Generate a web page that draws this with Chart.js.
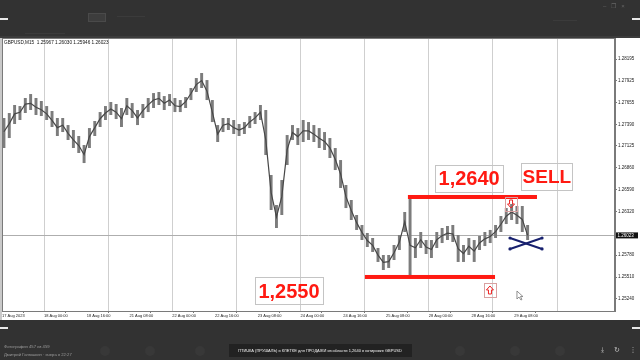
<!DOCTYPE html>
<html><head><meta charset="utf-8">
<style>html,body{margin:0;padding:0;background:#303030;overflow:hidden}canvas{display:block}</style>
<script src="https://cdn.jsdelivr.net/npm/chart.js@4.4.0/dist/chart.umd.min.js"></script>
</head><body>
<div style="width:640px;height:360px;position:relative"><canvas id="c" width="640" height="360" style="width:640px;height:360px"></canvas></div>
<script>
// ---- data (trading hours since 18 Aug 00:00, prices) ----
const symbolTitle = 'GBPUSD,M15';
const lastBar = [1.25967, 1.26030, 1.25946, 1.26023];
const barHours = [-15,-13,-11,-9,-7,-5,-3,-1,1,3,5,7,9,11,13,15,17,19,21,23,25,27,29,31,33,35,37,39,41,43,45,47,49,51,53,55,57,59,61,63,65,67,69,71,73,75,77,79,81,83,85,87,89,91,93,95,97,99,101,103,105,107,109,111,113,115,117,119,121,123,125,127,129,131,133,135,137,139,141,143,145,147,149,151,153,155,157,159,161,163,165,167,169,171,173,175,177,179,181];
const barHigh = [1.27469,1.27530,1.27629,1.27616,1.27715,1.27764,1.27715,1.27678,1.27616,1.27555,1.27469,1.27469,1.27382,1.27321,1.27247,1.27136,1.27345,1.27432,1.27542,1.27616,1.27666,1.27641,1.27592,1.27715,1.27653,1.27567,1.27641,1.27715,1.27776,1.27789,1.27739,1.27764,1.27715,1.27690,1.27727,1.27838,1.27961,1.28023,1.27936,1.27690,1.27382,1.27469,1.27469,1.27444,1.27395,1.27419,1.27493,1.27542,1.27629,1.27567,1.26767,1.26397,1.26705,1.27259,1.27382,1.27345,1.27444,1.27419,1.27382,1.27345,1.27296,1.27222,1.27099,1.26951,1.26644,1.26459,1.26274,1.26151,1.26053,1.25991,1.25868,1.25782,1.25782,1.25905,1.26028,1.26311,1.26496,1.25991,1.26065,1.25966,1.25966,1.26065,1.26114,1.26139,1.26151,1.26028,1.25905,1.25991,1.25966,1.26016,1.26065,1.26090,1.26151,1.26262,1.26360,1.26410,1.26385,1.26385,1.26151];
const barLow = [1.27099,1.27222,1.27395,1.27444,1.27530,1.27567,1.27506,1.27493,1.27444,1.27358,1.27247,1.27296,1.27198,1.27099,1.27038,1.26914,1.27099,1.27247,1.27358,1.27444,1.27506,1.27456,1.27358,1.27506,1.27469,1.27382,1.27469,1.27542,1.27592,1.27629,1.27567,1.27616,1.27542,1.27542,1.27592,1.27690,1.27789,1.27838,1.27690,1.27419,1.27173,1.27296,1.27321,1.27272,1.27247,1.27272,1.27345,1.27395,1.27444,1.27013,1.26336,1.26114,1.26274,1.26890,1.27198,1.27136,1.27173,1.27198,1.27173,1.27099,1.27075,1.26976,1.26828,1.26607,1.26360,1.26213,1.26090,1.25966,1.25880,1.25819,1.25696,1.25597,1.25622,1.25720,1.25843,1.26065,1.25511,1.25745,1.25868,1.25794,1.25745,1.25868,1.25929,1.25966,1.25942,1.25696,1.25696,1.25782,1.25696,1.25843,1.25892,1.25929,1.25991,1.26065,1.26163,1.26213,1.26163,1.26065,1.25966];
const barClose = [1.27300,1.27400,1.27520,1.27540,1.27640,1.27650,1.27600,1.27570,1.27520,1.27440,1.27350,1.27380,1.27280,1.27200,1.27130,1.27020,1.27240,1.27350,1.27460,1.27530,1.27580,1.27540,1.27460,1.27620,1.27560,1.27470,1.27560,1.27630,1.27690,1.27710,1.27650,1.27690,1.27620,1.27610,1.27670,1.27770,1.27880,1.27930,1.27800,1.27540,1.27270,1.27380,1.27400,1.27350,1.27320,1.27350,1.27420,1.27470,1.27540,1.27200,1.26550,1.26250,1.26500,1.27080,1.27290,1.27240,1.27310,1.27310,1.27270,1.27220,1.27180,1.27100,1.26960,1.26780,1.26500,1.26330,1.26180,1.26060,1.25960,1.25900,1.25780,1.25690,1.25700,1.25810,1.25940,1.26190,1.25900,1.25870,1.25970,1.25880,1.25850,1.25970,1.26020,1.26050,1.26040,1.25860,1.25800,1.25890,1.25830,1.25930,1.25980,1.26010,1.26070,1.26160,1.26260,1.26310,1.26270,1.26220,1.26023];
const timeTickHours = [-15.72,0,16,32,48,64,80,96,112,128,144,160,176];
const timeTickLabels = ['17 Aug 2023','18 Aug 00:00','18 Aug 16:00','21 Aug 08:00','22 Aug 00:00','22 Aug 16:00','23 Aug 08:00','24 Aug 00:00','24 Aug 16:00','25 Aug 08:00','28 Aug 00:00','28 Aug 16:00','29 Aug 08:00'];
const gridHours = [0,24,48,72,96,120,144,168,192];
const priceTicks = [1.28195,1.27925,1.27655,1.27390,1.27125,1.26860,1.26590,1.26320,1.25780,1.25510,1.25240];
const currentPrice = 1.26023;
const resistanceLine = [136.2, 184.5, 1.26496];
const supportLine = [120.1, 168.8, 1.25511];
const labelTexts = ['1,2640', 'SELL', '1,2550'];
const labelAnchors = [[159.1, 1.26718], [188.2, 1.26742], [91.7, 1.25338]];
const arrowDownAt = [174.8, 1.26410];
const arrowUpAt = [166.9, 1.25351];
const crossA = [[174.4, 1.25991], [186.4, 1.25856]];
const crossB = [[174.4, 1.25856], [186.4, 1.25991]];
const cursorAt = [177.0, 1.25338];
const captionText = 'ПТИЧКА (ПРУШАЛЬ) в КЛЕТКЕ для ПРОДАЖИ из области 1,2640 в котировке GBPUSD';

const FONT = '"Liberation Sans", Arial, sans-serif';

const decor = {
  id: 'decor',
  beforeDraw(chart) {
    const c = chart.ctx;
    c.save();
    c.fillStyle = '#323232'; c.fillRect(0, 0, 640, 360);
    c.fillStyle = '#ffffff'; c.fillRect(0, 38, 640, 282);
    c.fillStyle = '#c9c9c9'; c.fillRect(0, 38, 2, 282);
    c.fillStyle = '#3d3d3d'; c.fillRect(88, 13, 18, 9);
    c.strokeStyle = '#4a4a4a'; c.strokeRect(88.5, 13.5, 17, 8);
    c.fillStyle = '#555555'; c.font = '4px ' + FONT; c.textBaseline = 'middle';
    c.fillText('———————', 117, 16);
    c.fillText('——————', 553, 20);
    c.fillText('——————————', 25, 33);
    c.fillStyle = '#666666'; c.font = '6px ' + FONT;
    c.fillText('–   ❐   ×', 603, 6);
    c.fillStyle = '#e8e8e8';
    c.fillRect(0, 18, 8, 2); c.fillRect(632, 18, 8, 2);
    c.fillRect(0, 327, 8, 2); c.fillRect(632, 327, 8, 2);
    c.fillStyle = '#3c3c3c'; c.fillRect(0, 36, 640, 2);
    c.fillStyle = '#9a9a9a'; c.font = '4.2px ' + FONT; c.textBaseline = 'middle';
    c.fillText('Фотография 457 из 459', 4, 347);
    c.fillText('Дмитрий Ганюшкин · вчера в 22:27', 4, 355);
    c.fillStyle = '#383838';
    [105, 150, 200, 250, 460, 515, 560].forEach(x => { c.beginPath(); c.arc(x, 351, 5, 0, Math.PI * 2); c.fill(); });
    c.fillStyle = '#222222'; c.fillRect(229, 344, 183, 13);
    c.fillStyle = '#f0f0f0'; c.font = '4px ' + FONT; c.textAlign = 'center';
    c.fillText(captionText, 320, 351);
    c.fillStyle = '#c8c8c8'; c.font = '7px "DejaVu Sans"';
    c.fillText('⤓', 602, 350); c.fillText('↻', 617, 350); c.fillText('⋮', 633, 350);
    c.restore();
  },
  beforeDatasetsDraw(chart) {
    const c = chart.ctx, a = chart.chartArea, ys = chart.scales.y;
    const py = Math.round(ys.getPixelForValue(currentPrice)) + 0.5;
    c.save();
    c.strokeStyle = '#aeaeae'; c.lineWidth = 1;
    c.beginPath(); c.moveTo(a.left, py); c.lineTo(a.right, py); c.stroke();
    c.restore();
  },
  afterDraw(chart) {
    const c = chart.ctx, a = chart.chartArea, xs = chart.scales.x, ys = chart.scales.y;
    const X = v => xs.getPixelForValue(v), Y = v => ys.getPixelForValue(v);
    c.save();
    c.strokeStyle = '#7a7a7a'; c.lineWidth = 1;
    c.strokeRect(a.left + 0.5, a.top + 0.5, a.right - a.left - 1, a.bottom - a.top);
    c.fillStyle = '#111'; c.font = '4.7px ' + FONT; c.textBaseline = 'middle'; c.textAlign = 'left';
    c.fillText(symbolTitle + '  ' + lastBar.map(v => v.toFixed(5)).join(' '), 4, 43);
    const py = Y(currentPrice);
    c.fillStyle = '#111'; c.fillRect(616, py - 3, 22, 6);
    c.fillStyle = '#fff'; c.font = '4.5px ' + FONT;
    c.fillText(currentPrice.toFixed(5), 617.5, py + 0.3);
    c.fillStyle = '#ff1a12';
    [resistanceLine, supportLine].forEach(l => {
      const y = Y(l[2]);
      c.fillRect(X(l[0]), y - 2, X(l[1]) - X(l[0]), 4);
    });
    const boxW = [68, 51, 68];
    labelTexts.forEach((t, i) => {
      const cx = X(labelAnchors[i][0]), cy = Y(labelAnchors[i][1]);
      c.strokeStyle = '#c4c4c4'; c.lineWidth = 1;
      c.strokeRect(Math.round(cx - boxW[i] / 2) + 0.5, Math.round(cy - 14) + 0.5, boxW[i], 27);
      c.fillStyle = '#ff1a12'; c.font = 'bold ' + (i === 1 ? 19 : 20) + 'px ' + FONT;
      c.textAlign = 'center'; c.textBaseline = 'middle';
      c.fillText(t, cx, cy + 1);
    });
    const drawArrow = (pt, up) => {
      const cx = X(pt[0]), cy = Y(pt[1]);
      c.strokeStyle = '#d9a0a0'; c.lineWidth = 1;
      c.strokeRect(Math.round(cx - 6) + 0.5, Math.round(cy - 7) + 0.5, 12, 14);
      c.strokeStyle = '#ee2020'; c.lineWidth = 1;
      const s = up ? -1 : 1;
      c.beginPath();
      c.moveTo(cx - 1.5, cy - 4 * s); c.lineTo(cx + 1.5, cy - 4 * s); c.lineTo(cx + 1.5, cy);
      c.lineTo(cx + 3.5, cy); c.lineTo(cx, cy + 4 * s); c.lineTo(cx - 3.5, cy); c.lineTo(cx - 1.5, cy);
      c.closePath(); c.stroke();
    };
    drawArrow(arrowDownAt, false);
    drawArrow(arrowUpAt, true);
    c.strokeStyle = '#17206e'; c.fillStyle = '#17206e'; c.lineWidth = 2;
    [crossA, crossB].forEach(seg => {
      c.beginPath(); c.moveTo(X(seg[0][0]), Y(seg[0][1])); c.lineTo(X(seg[1][0]), Y(seg[1][1])); c.stroke();
      seg.forEach(p => { c.beginPath(); c.arc(X(p[0]), Y(p[1]), 1.6, 0, Math.PI * 2); c.fill(); });
    });
    const mx = X(cursorAt[0]), my = Y(cursorAt[1]);
    c.fillStyle = '#fff'; c.strokeStyle = '#777'; c.lineWidth = 0.8;
    c.beginPath(); c.moveTo(mx, my); c.lineTo(mx, my + 8); c.lineTo(mx + 2, my + 6); c.lineTo(mx + 4, my + 9);
    c.lineTo(mx + 5, my + 8.5); c.lineTo(mx + 3.5, my + 5.5); c.lineTo(mx + 6, my + 5.5); c.closePath();
    c.fill(); c.stroke();
    c.restore();
  }
};

new Chart(document.getElementById('c'), {
  data: {
    datasets: [{
      type: 'bar',
      data: barHours.map((h, i) => ({ x: h, y: [barLow[i], barHigh[i]] })),
      backgroundColor: '#7c7c7c',
      borderWidth: 0,
      barPercentage: 1,
      categoryPercentage: 0.55,
      grouped: false,
      order: 2
    }, {
      type: 'line',
      data: barHours.map((h, i) => ({ x: h, y: barClose[i] })),
      borderColor: '#474747',
      borderWidth: 1.2,
      pointRadius: 0,
      tension: 0,
      order: 1
    }]
  },
  options: {
    responsive: false,
    animation: false,
    devicePixelRatio: 1,
    layout: { padding: { left: 2, top: 38, right: 0, bottom: 0 } },
    plugins: { legend: { display: false }, tooltip: { enabled: false } },
    scales: {
      x: {
        type: 'linear', position: 'bottom', min: -15.72, max: 213.7, offset: false,
        afterBuildTicks: ax => { ax.ticks = timeTickHours.map(v => ({ value: v })); },
        afterFit: ax => { ax.height = 49; },
        grid: { drawOnChartArea: false, drawTicks: true, tickLength: 2, color: '#777' },
        border: { display: false },
        ticks: {
          autoSkip: false, maxRotation: 0, align: 'start', padding: 0,
          font: { size: 4, family: FONT }, color: '#222',
          callback: (v, i) => timeTickLabels[i]
        }
      },
      xg: {
        type: 'linear', position: 'bottom', min: -15.72, max: 213.7, offset: false,
        afterBuildTicks: ax => { ax.ticks = gridHours.map(v => ({ value: v })); },
        afterFit: ax => { ax.height = 0; },
        grid: { drawOnChartArea: true, drawTicks: false, color: '#cfcfcf', lineWidth: 1 },
        border: { display: false },
        ticks: { display: false }
      },
      y: {
        type: 'linear', position: 'right', min: 1.25092, max: 1.28454,
        afterBuildTicks: ax => { ax.ticks = priceTicks.map(v => ({ value: v })); },
        afterFit: ax => { ax.width = 25; },
        grid: { drawOnChartArea: false, drawTicks: true, tickLength: 2, color: '#777' },
        border: { display: true, color: '#7a7a7a' },
        ticks: {
          padding: 1, font: { size: 4.5, family: FONT }, color: '#222',
          callback: v => Number(v).toFixed(5)
        }
      }
    }
  },
  plugins: [decor]
});
</script>
</body></html>
